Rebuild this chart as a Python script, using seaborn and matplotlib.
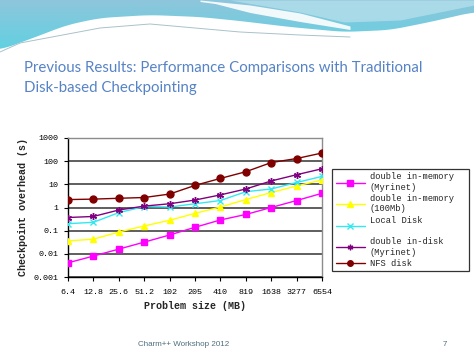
import numpy as np
import pandas as pd
import seaborn as sns
import matplotlib.pyplot as plt
from matplotlib.patches import Polygon

# datos
sizes = ["6.4", "12.8", "25.6", "51.2", "102", "205", "410", "819", "1638", "3277", "6554"]
mem_myrinet = [0.0041, 0.008, 0.016, 0.032, 0.065, 0.14, 0.29, 0.5, 1.0, 2.0, 4.1]
mem_100mb = [0.036, 0.043, 0.087, 0.16, 0.28, 0.56, 1.05, 2.2, 4.4, 8.5, 15.5]
local_disk = [0.2, 0.23, 0.6, 1.1, 1.05, 1.45, 2.0, 4.8, 6.3, 12, 22]
disk_myrinet = [0.37, 0.41, 0.78, 1.15, 1.45, 2.1, 3.5, 6.3, 14, 26, 47]
nfs_disk = [2.2, 2.3, 2.5, 2.7, 3.8, 9, 18, 35, 87, 130, 225]

series_names = ["double in-memory\n(Myrinet)", "double in-memory\n(100Mb)", "Local Disk\n ",
                "double in-disk\n(Myrinet)", "NFS disk"]
series_vals = [mem_myrinet, mem_100mb, local_disk, disk_myrinet, nfs_disk]
colores = ["#FF00FF", "#FFFF00", "#33E8F0", "#800080", "#800000"]
marcadores = ["s", "^", "x", (6, 2, 0), "o"]

ytick_vals = [0.001, 0.01, 0.1, 1, 10, 100, 1000]
ytick_labels = ["0.001", "0.01", "0.1", "1", "10", "100", "1000"]

sns.set_theme(style="ticks")
plt.rcParams["font.family"] = ["Liberation Mono", "DejaVu Sans"]

fig = plt.figure(figsize=(4.74, 3.55), dpi=100)
fig.patch.set_facecolor("white")

# fondo decorativo de la diapositiva
bg = fig.add_axes([0, 0, 1, 1], zorder=-5)
bg.set_xlim(0, 474)
bg.set_ylim(355, 0)
bg.axis("off")

xs = np.linspace(0, 474, 300)
borde_x = [0, 33, 67, 100, 150, 200, 240, 290, 344, 390, 430, 474]
borde_y = [50, 38, 25, 18, 15, 17, 21, 27, 32, 30, 22, 12]
borde = np.interp(xs, borde_x, borde_y)
borde = np.convolve(np.pad(borde, 8, mode="edge"), np.ones(17) / 17, mode="valid")
verts = np.vstack([np.column_stack([xs, borde]), [[474, 0], [0, 0]]])
clip = Polygon(verts, closed=True, facecolor="none", edgecolor="none")
bg.add_patch(clip)
grad = np.zeros((60, 2, 3))
top_c = np.array([0x8E, 0xC6, 0xDC]) / 255
bot_c = np.array([0x5C, 0xD2, 0xE2]) / 255
for k in range(60):
    grad[k, :, :] = top_c + (bot_c - top_c) * (k / 59)
im = bg.imshow(grad, extent=[0, 474, 55, 0], aspect="auto", zorder=1)
im.set_clip_path(clip)

# franja clara arriba a la derecha
claro_x = np.linspace(230, 474, 100)
claro_y = np.interp(claro_x, [230, 300, 344, 400, 474], [0, 12, 22, 20, 5])
bg.fill_between(claro_x, 0, claro_y, color="#B3DFEC", alpha=0.8, lw=0, zorder=2)
# franja blanca
bx = np.linspace(200, 350, 80)
b_up = np.interp(bx, [200, 250, 300, 350], [0, 5, 13, 26])
b_lo = np.interp(bx, [200, 215, 250, 300, 350], [0, 2, 11, 20, 28])
bg.fill_between(bx, b_up, b_lo + 1.5, color="white", alpha=0.9, lw=0, zorder=3)
# linea fina gris
lx = np.linspace(0, 350, 120)
ly = np.interp(lx, [0, 20, 100, 150, 240, 300, 350], [52, 43, 28, 24, 32, 35, 37])
bg.plot(lx, ly, color="#A9C2CA", lw=0.7, zorder=3)

# titulo y pie
fig.text(24 / 474, 1 - 68 / 355, "Previous Results: Performance Comparisons with Traditional",
         fontsize=10.8, color="#5683C6", family="Lato", va="center", ha="left")
fig.text(24 / 474, 1 - 88 / 355, "Disk-based Checkpointing",
         fontsize=10.8, color="#5683C6", family="Lato", va="center", ha="left")
fig.text(184 / 474, 1 - 344 / 355, "Charm++ Workshop 2012", fontsize=5.8, color="#4E6E7E",
         family="Liberation Sans", va="center", ha="center")
fig.text(445 / 474, 1 - 344 / 355, "7", fontsize=5.8, color="#4E6E7E",
         family="Liberation Sans", va="center", ha="center")

# grafico principal
ax = fig.add_axes([68 / 474, 1 - 277 / 355, (322 - 68) / 474, (277 - 138) / 355])
ax.set_facecolor("white")
posiciones = list(range(len(sizes)))
for nombre, vals, col, mk in zip(series_names, series_vals, colores, marcadores):
    sns.lineplot(x=posiciones, y=vals, color=col, marker=mk, lw=1.0, markersize=5,
                 markeredgewidth=1.0, markeredgecolor=col, label=nombre, ax=ax, zorder=5)

ax.set_yscale("log")
ax.set_ylim(0.001, 1000)
ax.set_xlim(0, len(sizes) - 1)
ax.set_yticks(ytick_vals)
ax.set_yticklabels(ytick_labels)
ax.minorticks_off()
ax.set_xticks(posiciones)
ax.set_xticklabels(sizes)
ax.tick_params(axis="both", labelsize=6, length=3, width=0.8, colors="black", pad=4)
ax.tick_params(axis="x", pad=6)
ax.yaxis.grid(True, color="#333333", lw=1.1)
ax.set_axisbelow(True)
for lado in ["top", "right"]:
    ax.spines[lado].set_visible(True)
    ax.spines[lado].set_color("#8C8C8C")
    ax.spines[lado].set_linewidth(1.0)
for lado in ["left", "bottom"]:
    ax.spines[lado].set_color("black")
    ax.spines[lado].set_linewidth(1.0)

ax.set_ylabel("Checkpoint overhead (s)", fontsize=7.2, fontweight="bold", labelpad=4)
ax.set_xlabel("Problem size (MB)", fontsize=7.2, fontweight="bold", labelpad=3)

handles, labels = ax.get_legend_handles_labels()
ax.get_legend().remove()
leg = fig.legend(handles, labels, loc="upper left",
                 bbox_to_anchor=(332 / 474, 1 - 169 / 355, (469 - 332) / 474, 0.0),
                 mode="expand", frameon=True, fancybox=False, edgecolor="black",
                 fontsize=6.3, handlelength=3.4, handletextpad=0.5, labelspacing=0.25,
                 borderpad=0.4, borderaxespad=0)
leg.get_frame().set_linewidth(0.9)
for h in leg.legend_handles:
    h.set_markersize(4)

plt.savefig("out.png", dpi=100)
